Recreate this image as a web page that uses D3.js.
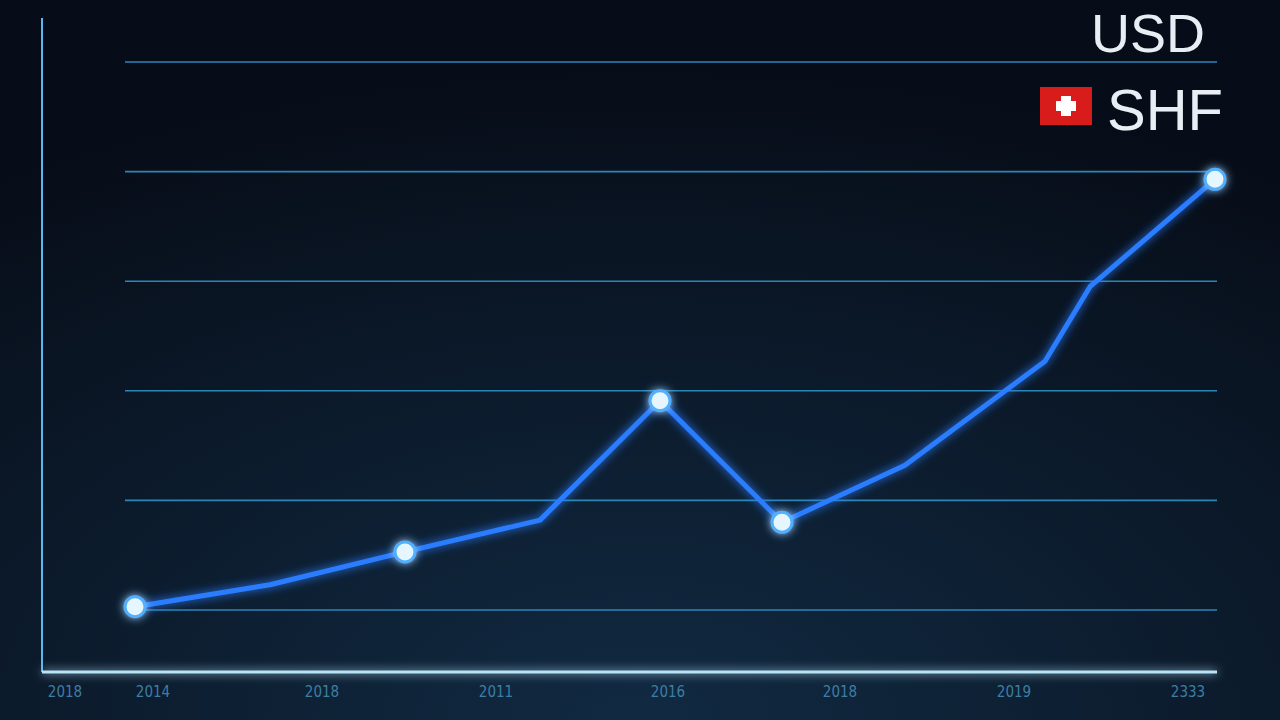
<!DOCTYPE html>
<html><head><meta charset="utf-8">
<script src="https://cdn.jsdelivr.net/npm/d3@7"></script>
<style>body{margin:0;background:#0a1220;}svg{display:block}</style>
</head><body><svg></svg>
<script>
const width = 1280, height = 720;
// data
const xValues = [93, 228, 363, 498, 618, 740, 863, 1003, 1048, 1173];
const yValues = [0.03, 0.23, 0.53, 0.82, 1.91, 0.8, 1.32, 2.27, 2.95, 3.93];
const markerIdx = [0, 2, 4, 5, 9];
const tickPos = [23, 111, 280, 454, 626, 798, 972, 1146];
const tickLabels = ["2018", "2014", "2018", "2011", "2016", "2018", "2019", "2333"];
const gridLevels = [0, 1, 2, 3, 4, 5];

const svg = d3.select("svg").attr("width", width).attr("height", height);
const defs = svg.append("defs");
const bg = defs.append("radialGradient").attr("id", "bg").attr("cx", "50%").attr("cy", "100%").attr("r", "90%");
bg.append("stop").attr("offset", "0%").attr("stop-color", "#112a42");
bg.append("stop").attr("offset", "100%").attr("stop-color", "#070d18");
const glow = defs.append("filter").attr("id", "glow").attr("filterUnits", "userSpaceOnUse")
    .attr("x", 0).attr("y", 0).attr("width", width).attr("height", height);
glow.append("feGaussianBlur").attr("stdDeviation", 5).attr("result", "b");
const m = glow.append("feMerge");
m.append("feMergeNode").attr("in", "b");
m.append("feMergeNode").attr("in", "SourceGraphic");

svg.append("rect").attr("width", width).attr("height", height).attr("fill", "url(#bg)");

const x = d3.scaleLinear().domain([0, 1175]).range([42, 1217]);
const y = d3.scaleLinear().domain([0, 5]).range([610, 62]);

svg.selectAll(".grid").data(gridLevels).join("line")
    .attr("x1", 125).attr("x2", 1217)
    .attr("y1", d => y(d)).attr("y2", d => y(d))
    .attr("stroke", "#2b86b8").attr("stroke-width", 1.6);

// axes
svg.append("line").attr("x1", 42).attr("x2", 42).attr("y1", 18).attr("y2", 672)
    .attr("stroke", "#5ab8f0").attr("stroke-width", 2);
svg.append("line").attr("x1", 42).attr("x2", 1217).attr("y1", 672).attr("y2", 672)
    .attr("stroke", "#b8e4f8").attr("stroke-width", 3).attr("filter", "url(#glow)");

svg.selectAll(".tick").data(tickLabels).join("text")
    .attr("x", (d, i) => x(tickPos[i])).attr("y", 697)
    .attr("text-anchor", "middle").attr("fill", "#3d7ea6")
    .attr("font-family", "DejaVu Sans Condensed, sans-serif").attr("font-size", 15)
    .text(d => d);

const pts = xValues.map((v, i) => [x(v), y(yValues[i])]);
svg.append("path").attr("d", d3.line()(pts))
    .attr("fill", "none").attr("stroke", "#2a7dff").attr("stroke-width", 5)
    .attr("stroke-linejoin", "round").attr("filter", "url(#glow)");

svg.selectAll(".dot").data(markerIdx).join("circle")
    .attr("cx", i => pts[i][0]).attr("cy", i => pts[i][1]).attr("r", 10)
    .attr("fill", "#e6f6ff").attr("stroke", "#4fb0ff").attr("stroke-width", 3)
    .attr("filter", "url(#glow)");

// legend
svg.append("text").attr("x", 1205).attr("y", 52).attr("text-anchor", "end")
    .attr("fill", "#e8eef4").attr("font-family", "Liberation Sans, Arial, sans-serif")
    .attr("font-size", 54).text("USD");
svg.append("rect").attr("x", 1040).attr("y", 87).attr("width", 52).attr("height", 38).attr("fill", "#d81c1c");
svg.append("rect").attr("x", 1061).attr("y", 96).attr("width", 10).attr("height", 20).attr("fill", "#fff");
svg.append("rect").attr("x", 1056).attr("y", 101).attr("width", 20).attr("height", 10).attr("fill", "#fff");
svg.append("text").attr("x", 1107).attr("y", 130)
    .attr("fill", "#e8eef4").attr("font-family", "Liberation Sans, Arial, sans-serif")
    .attr("font-size", 58).text("SHF");
</script></body></html>
